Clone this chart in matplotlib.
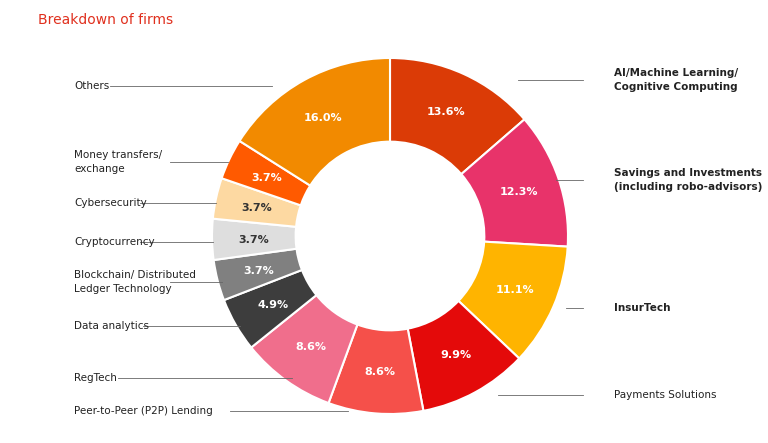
import numpy as np
import matplotlib.pyplot as plt

shares = [13.6, 12.3, 11.1, 9.9, 8.6, 8.6, 4.9, 3.7, 3.7, 3.7, 3.7, 16.0]
colors = ["#db3b06", "#e8336a", "#ffb400", "#e40a0a", "#f5504a", "#f06e8c",
          "#3d3d3d", "#808080", "#dedede", "#fdd9a2", "#ff5a00", "#f28a00"]
label_colors = ["white"] * 8 + ["#333333", "#333333", "white", "white"]

left_labels = ["Others", "Money transfers/\nexchange", "Cybersecurity", "Cryptocurrency",
               "Blockchain/ Distributed\nLedger Technology", "Data analytics", "RegTech",
               "Peer-to-Peer (P2P) Lending"]
left_y = [86, 162, 203, 242, 282, 326, 378, 411]
left_end = [272, 228, 216, 213, 222, 240, 292, 348]

right_labels = ["AI/Machine Learning/\nCognitive Computing",
                "Savings and Investments\n(including robo-advisors)",
                "InsurTech", "Payments Solutions"]
right_y = [80, 180, 308, 395]
right_start = [518, 556, 566, 498]
right_bold = [True, True, True, False]

fig = plt.figure(figsize=(7.68, 4.43), dpi=100)
ax = fig.add_axes([0, 0, 1, 1])

cx, cy, r = 390, 236, 178
# y axis is inverted below, so 270 deg points up and counterclock runs clockwise on screen
ax.pie(shares, colors=colors, startangle=270, counterclock=True,
       radius=r, center=(cx, cy),
       wedgeprops=dict(width=r * 0.47, edgecolor="white", linewidth=1.5))
ax.set_xlim(0, 768)
ax.set_ylim(443, 0)
ax.set_aspect("auto")
ax.axis("off")

ang = 270.0
for s, c in zip(shares, label_colors):
    mid = np.deg2rad(ang + s * 3.6 / 2)
    rr = r * 0.765
    ax.text(cx + rr * np.cos(mid), cy + rr * np.sin(mid), f"{s:.1f}%",
            ha="center", va="center", color=c, fontsize=8, fontweight="bold")
    ang += s * 3.6

ax.text(38, 20, "Breakdown of firms", color="#e0301e", fontsize=10, va="center")

for lab, y, xe in zip(left_labels, left_y, left_end):
    ax.text(74, y, lab, fontsize=7.5, va="center", color="#222222", linespacing=1.5)
    xs = 110 if lab == "Others" else (170 if "\n" in lab else 140)
    if lab == "Data analytics":
        xs = 143
    if lab == "RegTech":
        xs = 118
    if lab.startswith("Peer"):
        xs = 230
    ax.plot([xs, xe], [y, y], color="#666666", lw=0.6)

for lab, y, xs, b in zip(right_labels, right_y, right_start, right_bold):
    ax.text(614, y, lab, fontsize=7.5, va="center", color="#222222", linespacing=1.5,
            fontweight="bold" if b else "normal")
    ax.plot([xs, 583], [y, y], color="#666666", lw=0.6)

fig.savefig("out.png", dpi=100)
